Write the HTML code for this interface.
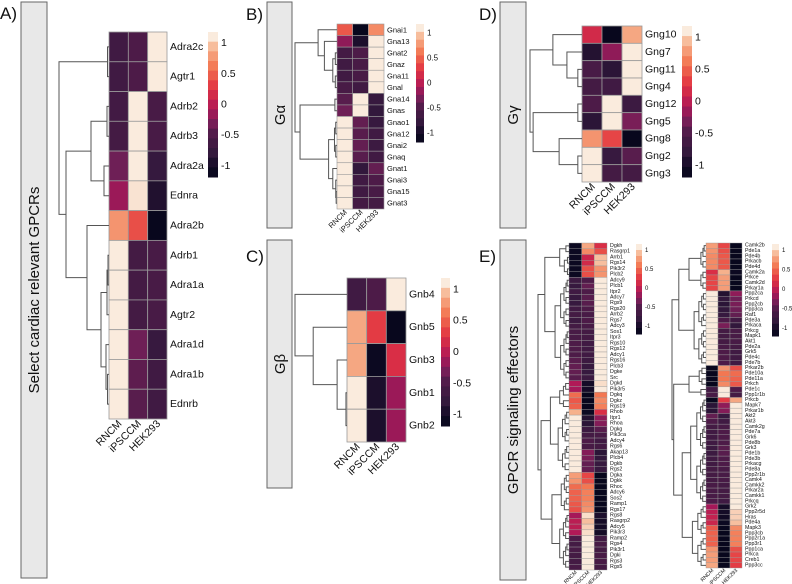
<!DOCTYPE html>
<html><head><meta charset="utf-8">
<style>
html,body{margin:0;padding:0;background:#fff;}
svg{display:block;font-family:"Liberation Sans",Arial,sans-serif;}
</style></head>
<body>
<svg id="fig" width="792" height="584" viewBox="0 0 792 584" xmlns="http://www.w3.org/2000/svg">
  <g fill="#e8e8e8" stroke="#666" stroke-width="1">
    <rect x="21" y="2" width="26" height="576"/>
    <rect x="267" y="2" width="25" height="226"/>
    <rect x="267" y="240" width="25" height="248"/>
    <rect x="500" y="2" width="26" height="226"/>
    <rect x="500" y="240" width="26" height="340"/>
  </g>
  <g fill="#111" text-anchor="middle">
    <text transform="translate(39,290) rotate(-90)" font-size="15">Select cardiac relevant GPCRs</text>
    <text transform="translate(285,115) rotate(-90)" font-size="15">Gα</text>
    <text transform="translate(285,364) rotate(-90)" font-size="15">Gβ</text>
    <text transform="translate(518,115) rotate(-90)" font-size="15">Gγ</text>
    <text transform="translate(518,410) rotate(-90)" font-size="15">GPCR signaling effectors</text>
  </g>
  <g fill="#111" font-size="17">
    <text x="0" y="19">A)</text>
    <text x="246" y="20">B)</text>
    <text x="246" y="262">C)</text>
    <text x="479" y="20">D)</text>
    <text x="479" y="262">E)</text>
  </g>
</svg>
<script>
const cellTypes = ['RNCM','iPSCCM','HEK293'];
const colorbarTicks = [1, 0.5, 0, -0.5, -1];
const colorbarTickLabels = ['1','0.5','0','-0.5','-1'];

const aGenes = ['Adra2c','Agtr1','Adrb2','Adrb3','Adra2a','Ednra','Adra2b','Adrb1','Adra1a','Agtr2','Adra1d','Adra1b','Ednrb'];
const aRncm   = [-0.65,-0.65,-0.62,-0.6,-0.35,-0.15,0.75,1.15,1.15,1.15,1.1,1.12,1.12];
const aIpsccm = [-0.5,-0.5,1.15,1.15,1.13,1.07,0.4,-0.6,-0.6,-0.6,-0.35,-0.42,-0.45];
const aHek    = [1.15,1.15,-0.55,-0.55,-0.78,-0.92,-1.15,-0.55,-0.55,-0.55,-0.75,-0.65,-0.65];

const bGenes = ['Gnai1','Gna13','Gnat2','Gnaz','Gna11','Gnal','Gna14','Gnas','Gnao1','Gna12','Gnai2','Gnaq','Gnat1','Gnai3','Gna15','Gnat3'];
const bRncm   = [0.45,-0.2,-0.6,-0.65,-0.65,-0.55,-0.45,-0.35,1.15,1.15,1.15,1.15,1.15,1.15,1.15,1.15];
const bIpsccm = [-1.15,-0.95,-0.5,-0.55,-0.55,-0.65,1.15,1.15,-0.4,-0.45,-0.4,-0.45,-0.8,-0.65,-0.65,-0.6];
const bHek    = [0.7,1.15,1.15,1.15,1.15,1.15,-0.75,-0.8,-0.75,-0.65,-0.7,-0.65,-0.4,-0.5,-0.55,-0.6];

const cGenes = ['Gnb4','Gnb5','Gnb3','Gnb1','Gnb2'];
const cRncm   = [-0.65,0.85,0.85,1.15,1.15];
const cIpsccm = [-0.5,0.3,-1.1,-0.95,-0.95];
const cHek    = [1.15,-1.15,0.2,-0.15,-0.15];

const dGenes = ['Gng10','Gng7','Gng11','Gng4','Gng12','Gng5','Gng8','Gng2','Gng3'];
const dRncm   = [0.15,-0.9,-0.55,-0.6,-0.5,-0.85,0.75,1.15,1.15];
const dIpsccm = [-1.15,-0.2,-0.85,-0.65,1.15,1.1,0.35,-0.75,-0.6];
const dHek    = [0.85,1.1,1.15,1.15,-0.7,-0.3,-1.15,-0.45,-0.6];

const eLeftGenes = ['Dgkh','Rasgrp1','Arrb1','Rgs14','Pik3r2','Plcb2','Adcy9','Plcb1','Itpr2','Adcy7','Rgs9','Rgs20','Arrb2','Rgs7','Adcy3','Sos1','Itpr3','Rgs10','Rgs12','Adcy1','Rgs16','Plcb3','Dgke','Src','Dgkd','Pik3r5','Dgkq','Dgkz','Rgs19','Rhob','Itpr1','Rhoa','Dgkg','Pik3ca','Adcy4','Rgs6','Akap13','Plcb4','Dgkb','Rgs2','Dgka','Dgkk','Rhoc','Adcy6','Sos2','Ramp1','Rgs17','Rgs8','Rasgrp2','Adcy5','Pik3r3','Ramp2','Rgs4','Pik3r1','Dgki','Rgs3','Rgs5'];
const eLeftRncm   = [-1.1,-1.1,-1.1,-1.1,-1.1,-1.1,-0.7,-0.75,-0.65,-0.75,-0.75,-0.65,-0.6,-0.7,-0.6,-0.55,-0.55,-0.5,-0.5,-0.5,-0.45,-0.4,-0.4,-0.45,-0.05,-0.1,0.55,0.45,0.5,0.9,1.1,1.1,1.15,1.15,1.15,1.15,1.1,1.1,1.15,1.15,0.8,0.75,0.55,0.5,0.5,0.45,0.4,-0.1,0.0,0.0,-0.05,-0.5,-0.6,-0.55,-0.6,-0.6,-0.55];
const eLeftIpsccm = [0.85,0.7,0.1,0.15,0.4,0.4,-0.5,-0.4,-0.5,-0.45,-0.45,-0.5,-0.55,-0.5,-0.55,-0.6,-0.6,-0.65,-0.65,-0.65,-0.7,-0.75,-0.75,-0.7,-1.0,-1.0,-1.15,-1.15,-1.15,-1.1,-0.9,-0.85,-0.7,-0.6,-0.5,-0.55,-0.25,-0.3,-0.4,-0.4,0.35,0.4,0.6,0.65,0.65,0.7,0.75,1.05,0.95,1.0,1.05,1.15,1.15,1.15,1.15,1.15,1.15];
const eLeftHek    = [0.2,0.4,0.95,0.95,0.75,0.75,1.15,1.15,1.15,1.15,1.15,1.15,1.15,1.15,1.15,1.15,1.15,1.15,1.15,1.15,1.15,1.15,1.15,1.15,1.05,1.1,0.6,0.7,0.65,0.2,-0.2,-0.25,-0.45,-0.55,-0.65,-0.6,-0.85,-0.8,-0.75,-0.75,-1.15,-1.15,-1.15,-1.15,-1.15,-1.15,-1.15,-0.95,-1.0,-1.0,-1.0,-0.65,-0.55,-0.6,-0.55,-0.55,-0.6];

const eRightGenes = ['Camk2b','Pde1a','Pde4b','Prkacb','Pde4d','Camk2a','Prkce','Camk2d','Prkar1a','Ppp2ca','Prkcd','Ppp2cb','Ppp3ca','Raf1','Pde3a','Prkaca','Prkcg','Mapk1','Akt1','Pde2a','Grk5','Pde4c','Pde7b','Prkar2b','Pde10a','Pde11a','Prkch','Pde1c','Ppp1r1b','Prkcb','Mapk7','Prkar1b','Akt2','Akt3','Camk2g','Pde7a','Grk6','Pde8b','Grk3','Pde1b','Pde3b','Prkacg','Pde8a','Ppp2r1b','Camk4','Camkk2','Prkar2a','Camkk1','Prkcq','Grk2','Ppp2r5d','Hras','Pde4a','Mapk3','Ppp3cb','Ppp2r1a','Ppp3r1','Ppp1ca','Prkca','Creb1','Ppp3cc'];
const eRightRncm   = [0.8,0.75,0.7,0.7,0.7,0.2,0.35,0.35,0.35,1.1,1.15,1.15,1.15,1.15,1.15,1.1,1.15,1.15,1.15,1.15,1.15,1.15,1.15,-1.15,-1.15,-1.15,-1.15,-0.65,-0.55,-1.15,-0.85,-0.85,-0.4,-0.5,-0.6,-0.65,-0.65,-0.65,-0.7,-0.7,-0.65,-0.65,-0.6,-0.6,-0.6,-0.55,-0.55,-0.55,-0.5,-0.1,0.0,0.05,0.1,0.45,0.5,0.5,0.5,0.75,0.8,0.8,0.85];
const eRightIpsccm = [0.35,0.4,0.45,0.45,0.45,0.9,0.8,0.8,0.8,-0.9,-0.8,-0.85,-0.8,-0.75,-0.5,-0.3,-0.6,-0.6,-0.6,-0.55,-0.5,-0.5,-0.5,0.75,0.6,0.6,0.7,1.15,1.15,0.3,-0.2,-0.25,-0.75,-0.65,-0.55,-0.5,-0.5,-0.5,-0.45,-0.45,-0.5,-0.5,-0.55,-0.55,-0.55,-0.6,-0.6,-0.6,-0.65,-1.0,-1.0,-1.05,-1.1,-1.15,-1.15,-1.15,-1.15,-1.15,-1.15,-1.15,-1.15];
const eRightHek    = [-1.15,-1.15,-1.15,-1.15,-1.15,-1.1,-1.15,-1.15,-1.15,-0.2,-0.35,-0.3,-0.35,-0.4,-0.65,-0.8,-0.55,-0.55,-0.55,-0.6,-0.65,-0.65,-0.65,0.4,0.55,0.5,0.45,-0.5,-0.6,0.85,1.1,1.1,1.15,1.15,1.15,1.15,1.15,1.15,1.15,1.15,1.15,1.15,1.15,1.15,1.15,1.15,1.15,1.15,1.15,1.1,1.0,1.0,0.95,0.7,0.65,0.65,0.65,0.4,0.35,0.35,0.3];

const NS = 'http://www.w3.org/2000/svg';
const svg = document.getElementById('fig');
const VMAX = 1.18;
const stops = [[0,[3,5,26]],[0.083,[53,25,62]],[0.25,[112,31,87]],[0.417,[173,23,89]],[0.583,[225,51,66]],[0.75,[243,118,81]],[0.917,[246,180,143]],[1,[250,235,221]]];
// nonlinear value -> colormap position, matched to reference colorbar
const scaleV = [-1.2,-1,-0.5,0,0.5,1,1.1];
const scaleT = [0,0.03,0.15,0.46,0.7,0.96,1];
function toT(v){
  if(v<=scaleV[0]) return 0;
  for(let i=1;i<scaleV.length;i++) if(v<=scaleV[i]) return scaleT[i-1]+(scaleT[i]-scaleT[i-1])*(v-scaleV[i-1])/(scaleV[i]-scaleV[i-1]);
  return 1;
}
function rocket(v){
  const t=toT(v);
  for(let i=1;i<stops.length;i++){
    if(t<=stops[i][0]){const a=stops[i-1],b=stops[i];const f=(t-a[0])/(b[0]-a[0]);
      const c=a[1].map((x,k)=>Math.round(x+(b[1][k]-x)*f));return 'rgb('+c.join(',')+')';}
  }
  return 'rgb(250,235,221)';
}
function mk(tag, attrs, parent){
  const el=document.createElementNS(NS,tag);
  for(const k in attrs) el.setAttribute(k,attrs[k]);
  parent.appendChild(el); return el;
}
function bal(lo,hi,h){
  if(lo===hi) return lo;
  const mid=Math.floor((lo+hi)/2);
  return [h, bal(lo,mid,h*0.6), bal(mid+1,hi,h*0.6)];
}
const trees = {
  a:[1,[0.03,0,1],[0.86,[0.36,[0.04,2,3],[0.1,4,5]],[0.44,6,[0.16,[0.04,[0.02,7,8],9],[0.06,10,[0.03,11,12]]]]]],
  b:[1,[0.45,0,[0.3,1,[0.1,[0.04,2,3],[0.04,4,5]]]],[0.88,[0.05,6,7],[0.2,[0.06,[0.03,8,9],[0.03,10,11]],[0.1,12,[0.03,13,[0.02,14,15]]]]]],
  c:[1,0,[0.65,1,[0.19,2,[0.02,3,4]]]],
  d:[1,[0.56,0,[0.29,1,[0.08,2,3]]],[0.94,[0.08,4,5],[0.44,6,[0.08,7,8]]]],
  el:[1,[0.78,[0.3,[0.1,0,1],[0.15,[0.05,2,3],[0.05,4,5]]],bal(6,23,0.45)],[0.9,[0.6,bal(24,28,0.3),bal(29,39,0.35)],[0.55,bal(40,46,0.25),bal(47,56,0.3)]]],
  er:[1,[0.8,[0.5,bal(0,4,0.15),bal(5,8,0.15)],bal(9,22,0.35)],[0.95,[0.5,bal(23,26,0.2),[0.15,27,28]],[0.7,bal(29,48,0.45),bal(49,60,0.4)]]]
};

function drawPanel(id, genes, cols, cfg, tree){
  const g=mk('g',{},svg);
  
  
  const n=genes.length, rh=(cfg.y1-cfg.y0)/n, cw=(cfg.x1-cfg.x0)/3;
  const yOf=i=>cfg.y0+i*rh, xOf=j=>cfg.x0+j*cw;
  for(let i=0;i<n;i++){
    for(let j=0;j<3;j++){
      const r=mk('rect',{x:xOf(j),y:yOf(i),width:cw,height:rh,fill:rocket(cols[j][i]),stroke:'#9a9a9a','stroke-width':cfg.sw},g);
      
      
    }
    const t=mk('text',{x:cfg.x1+3,y:yOf(i)+rh/2,'font-size':cfg.fs,'dominant-baseline':'central',fill:'#111'},g);
    t.textContent=genes[i];
    
    
  }
  for(let j=0;j<3;j++){
    const cx=xOf(j)+cw/2+cfg.fs*0.35, cy=cfg.y1+cfg.fs*0.5;
    const t=mk('text',{transform:'translate('+cx+','+cy+') rotate(-45)','text-anchor':'end','font-size':cfg.fs,fill:'#111'},g);
    t.textContent=cellTypes[j];
    
    
  }
  const dg=mk('g',{stroke:'#555','stroke-width':1,fill:'none'},g);
  
  
  const span=cfg.x0-cfg.dx;
  function walk(node){
    if(typeof node==='number') return {y:yOf(node)+rh/2,x:cfg.x0};
    const x=cfg.x0-node[0]*span;
    const a=walk(node[1]), b=walk(node[2]);
    mk('path',{d:'M'+a.x+','+a.y+'H'+x+'V'+b.y+'H'+b.x},dg);
    return {y:(a.y+b.y)/2,x:x};
  }
  walk(tree);
  const cb=mk('g',{},g);
  
  
  const steps=15, sh=(cfg.cy1-cfg.cy0)/steps;
  for(let k=0;k<steps;k++){
    const v=VMAX-(k+0.5)*(2*VMAX/steps);
    const r=mk('rect',{x:cfg.cx,y:cfg.cy0+k*sh,width:cfg.cw,height:sh+0.5,fill:rocket(v)},cb);
    
    
  }
  const cy=v=>cfg.cy0+(VMAX-v)/(2*VMAX)*(cfg.cy1-cfg.cy0);
  colorbarTicks.forEach((v,k)=>{
    const t=mk('text',{x:cfg.cx+cfg.cw+3,y:cy(v),'font-size':cfg.tfs,'dominant-baseline':'central',fill:'#111'},cb);
    t.textContent=colorbarTickLabels[k];
    
    
  });
}
drawPanel('a',aGenes,[aRncm,aIpsccm,aHek],{x0:109,x1:167,y0:32,y1:419,dx:59,fs:10.5,sw:0.8,cx:208,cw:10,cy0:32,cy1:177,tfs:10.5},trees.a);
drawPanel('b',bGenes,[bRncm,bIpsccm,bHek],{x0:337,x1:384,y0:24,y1:209,dx:295,fs:7.5,sw:0.6,cx:416,cw:8,cy0:24,cy1:142,tfs:8},trees.b);
drawPanel('c',cGenes,[cRncm,cIpsccm,cHek],{x0:347,x1:406,y0:278,y1:442,dx:295,fs:10.5,sw:0.8,cx:441,cw:9,cy0:278,cy1:426,tfs:10.5},trees.c);
drawPanel('d',dGenes,[dRncm,dIpsccm,dHek],{x0:582,x1:642,y0:26,y1:182,dx:530,fs:10.5,sw:0.8,cx:682,cw:10,cy0:26,cy1:177,tfs:10.5},trees.d);
drawPanel('e-left',eLeftGenes,[eLeftRncm,eLeftIpsccm,eLeftHek],{x0:569,x1:607,y0:243,y1:570,dx:538,fs:5.3,sw:0.4,cx:636,cw:6,cy0:244,cy1:334,tfs:6},trees.el);
drawPanel('e-right',eRightGenes,[eRightRncm,eRightIpsccm,eRightHek],{x0:706,x1:742,y0:243,y1:568,dx:672,fs:5.3,sw:0.4,cx:772,cw:7,cy0:244,cy1:336,tfs:6},trees.er);
</script>
</body></html>
